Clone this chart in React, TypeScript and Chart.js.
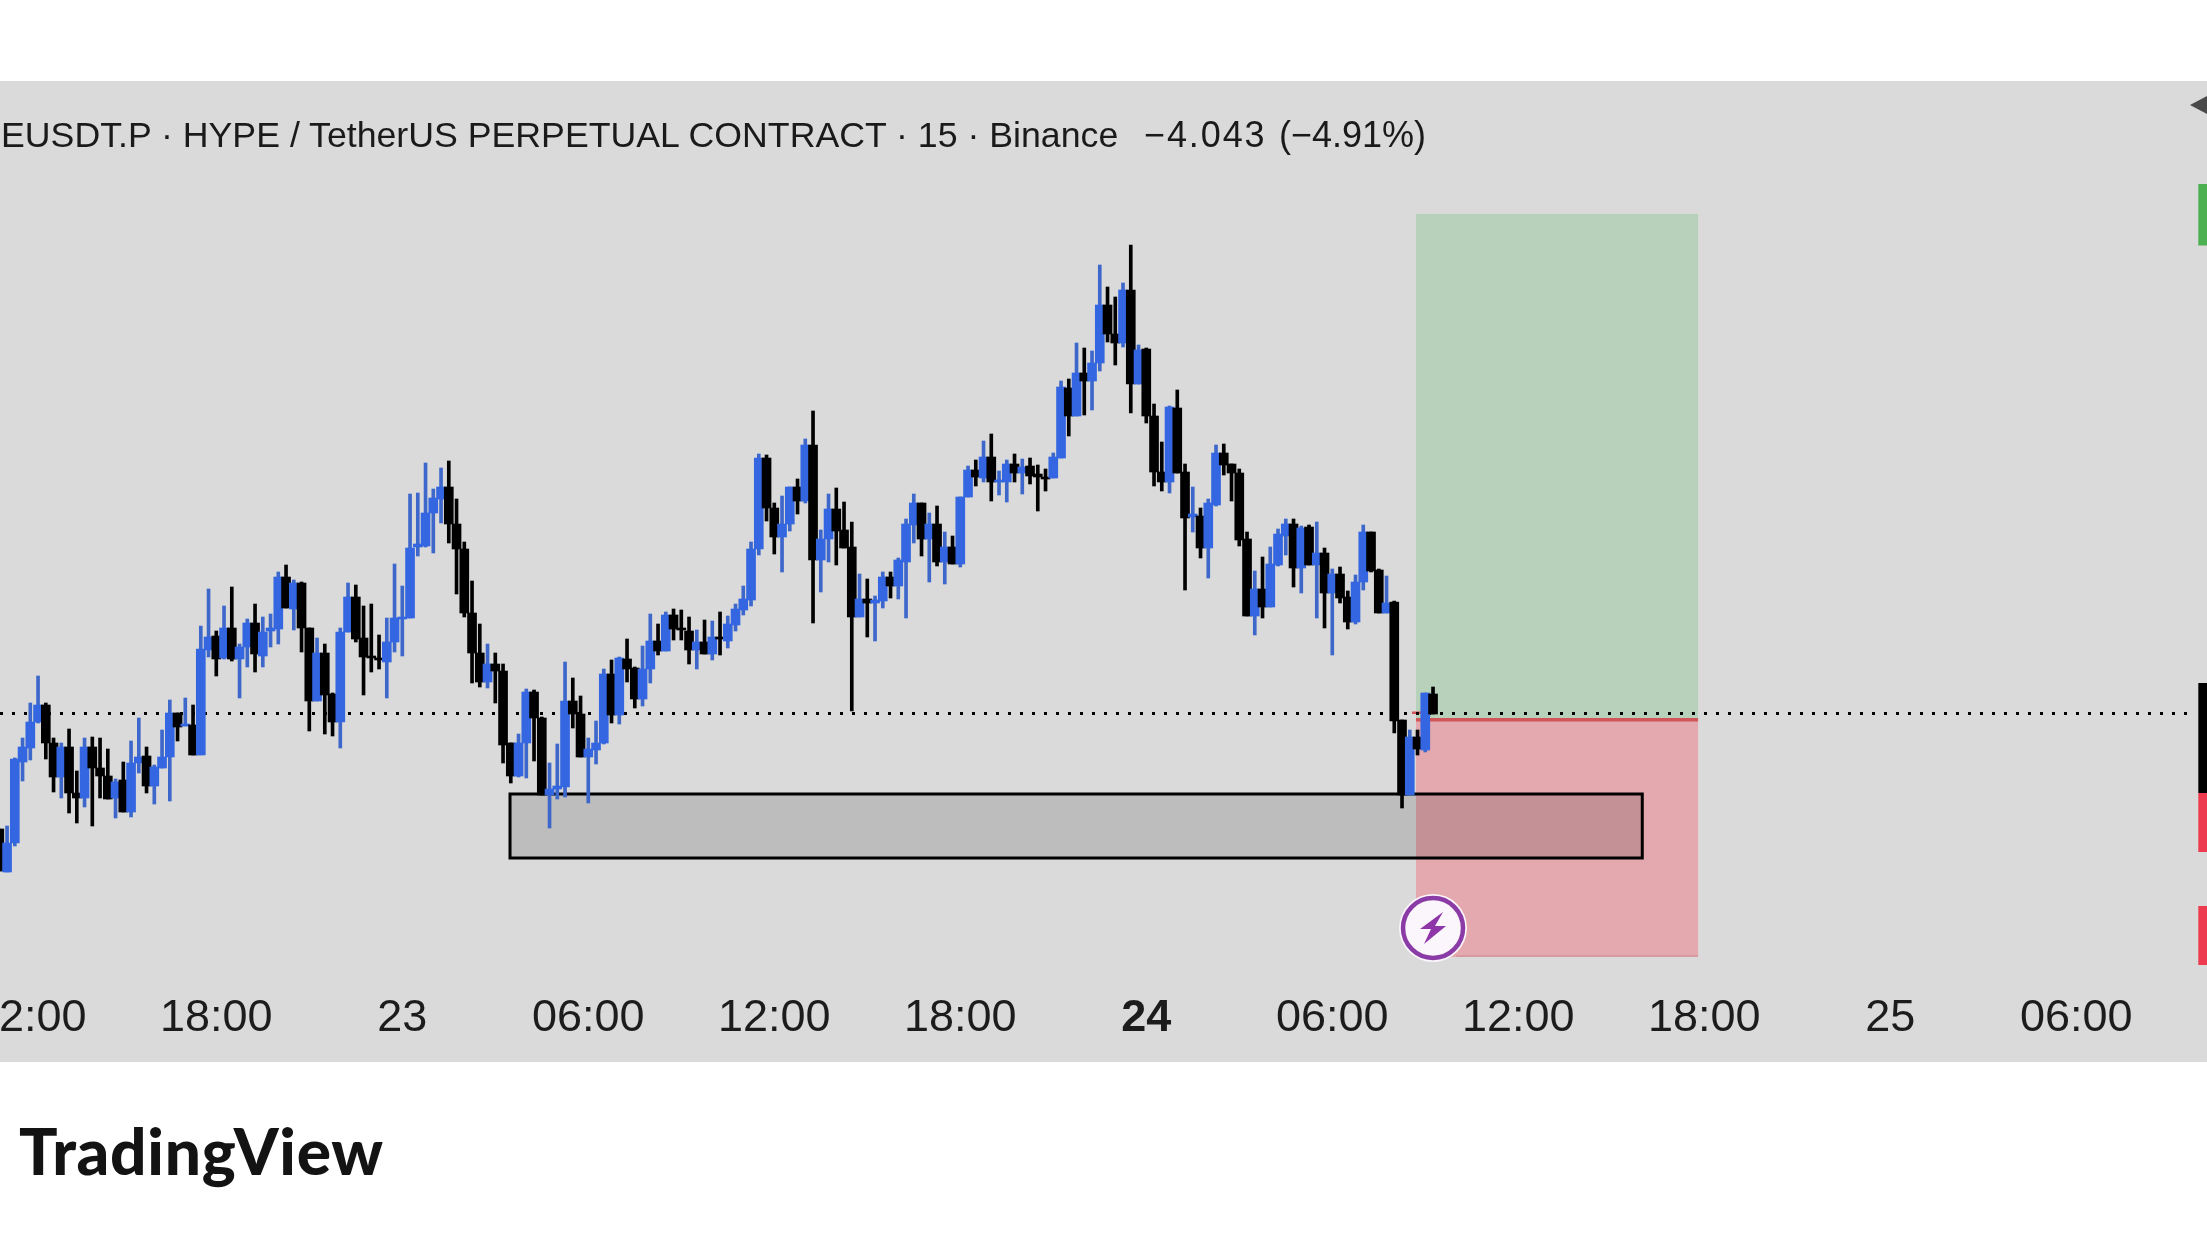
import React, { useEffect, useRef } from "react";
import { Chart, registerables } from "chart.js";

Chart.register(...registerables);

const opens = [
  67.1,62.8,65.7,73.8,75.2,77.8,79.5,75.7,72.3,75.3,
  70.7,70.2,75.3,73.2,72.4,70.2,72,68.8,73.7,74.4,
  71.4,73.2,74.3,78.7,77.4,77.5,74.5,85,86.4,84.2,
  87.2,84.1,85.3,87.7,84.4,86.9,87.1,92.3,89.1,91.7,
  87.2,79.9,84.7,80.6,77.8,86.8,90.3,86.2,84.4,84.2,
  83.8,85.8,88.1,88.2,95.3,95.4,98.7,100.1,101.3,97.6,
  95.1,88.7,84.7,81.8,83.6,82.9,75.7,72.4,75.7,80.8,
  78.2,70.5,71.1,71.3,79.9,78.6,74.3,75,75.7,82.6,
  78.5,84.1,83.2,80.1,83.1,85.9,84.9,88.5,87.2,86.9,
  85,85.8,84.6,86.3,85.9,87.5,89,90,95.1,104.2,
  99.2,96.3,97.6,101.3,99.9,105.5,94,96.1,99.1,97,
  95.3,88.3,90.1,89.7,89.9,92.3,91.4,93.8,97.5,99.7,
  96.1,97.6,93.8,95.3,93.6,100.3,103,102.2,104.3,101.8,
  101.8,103.6,102.7,103.4,102.6,102.3,102.2,104.2,111.2,108.4,
  112.7,111.9,113.7,119.5,116.6,115.7,121,111.6,115.1,108.4,
  102.8,101.8,109.2,102.8,98.3,98.4,95.2,99.5,104.7,103.6,
  102.7,96.1,88.4,91.1,89.3,93.5,96.4,97.6,93.2,97.3,
  93.5,94.7,90.7,92.6,90.3,87.8,91.8,96.8,93,88.7,
  89.8,78,70.5,76.3,75,80.6,
];
const closes = [
  62.9,65.7,74.1,75.3,77.8,79.5,75.7,72.3,75.3,70.7,
  70.2,75.3,73.2,72.4,70.1,71.8,68.8,73.7,74.3,71.4,
  73.3,74.3,78.7,77.3,77.6,74.5,85.1,86.3,84.1,87.2,
  84.1,85.3,87.7,84.6,86.8,87.2,92.3,89.2,91.7,87.2,
  79.9,84.7,80.5,77.8,86.8,90.3,86.1,84.3,84.2,84,
  85.8,88.2,88.3,95.2,95.6,98.7,100.2,101.3,97.6,95.1,
  88.7,84.7,81.8,83.6,82.9,75.5,72.4,75.7,80.8,78.2,
  70.5,71.1,71.4,79.9,78.6,74.3,75.1,75.7,82.6,78.5,
  84.2,83.1,80.1,83.1,85.9,84.9,88.5,87.1,87,85,
  85.8,84.6,86.3,86.1,87.6,89.1,90.1,95.1,104.2,99.2,
  96.3,97.6,101.3,99.9,105.5,94,96.1,99.1,96.9,95.2,
  88.3,90.1,89.7,90,92.3,91.4,94,97.6,99.7,96.1,
  97.6,93.8,95.3,93.6,100.3,103,102.3,104.3,101.8,102,
  103.6,102.7,103.3,102.4,102.3,102.1,104.3,111.3,108.4,112.7,
  111.9,113.7,119.5,116.6,115.7,121,111.6,115,108.4,102.8,
  101.8,109.3,102.7,98.2,98.6,95.2,99.7,104.7,103.5,102.7,
  96,88.4,91.1,89.3,93.6,96.6,97.6,93.2,97.2,93.5,
  94.7,90.7,92.6,90.2,87.8,91.8,96.8,92.9,88.7,89.7,
  77.9,70.5,76.3,75.1,80.7,78.6,
];
const highs = [
  67.1,67.4,74.2,76.2,79.7,82.4,79.7,76.2,75.7,77.1,
  72.9,76.2,76.3,76.2,75.1,72.1,73.8,75.9,78.2,75.3,
  73.5,77,80,78.7,80.2,79.5,87.4,91.1,86.9,89.4,
  91.3,85.6,88.1,89.6,88.3,88.6,92.8,93.5,92,91.8,
  87.2,86.2,85.6,80.7,87.2,91.7,91.5,89.4,89.6,86.5,
  88.2,93.6,91.4,100.6,100.7,103.7,101.1,103.2,103.9,100.1,
  95.8,91.9,87.6,85.6,84.7,83.6,75.7,76.6,81.1,81,
  78.3,73.7,75.6,83.8,82.2,80.4,76.2,77.9,83.1,84,
  84.3,86.1,83.3,85.4,88.6,87.6,88.8,89.1,89,88.3,
  87,88,87.9,88.8,88.4,89.6,91.4,95.8,104.6,104.5,
  99.7,100.4,101.3,102.1,106.1,108.9,97,100.6,101.2,99.8,
  97.8,92.6,92.1,90.4,92.8,92.8,94.2,98.1,100.6,99.7,
  98.7,99.4,96.8,96.4,100.3,103.4,104,105.9,106.6,102.9,
  104,104.6,104.1,104.2,103.5,103.1,104.7,111.9,112.1,115.7,
  115.2,114.9,123.5,121.3,120.3,121.7,125.5,115.5,115.2,109.6,
  105.8,109.4,111,103.6,101.3,99.2,100.1,105.5,105.6,103.6,
  103.1,96.8,92.9,94.3,95.3,97.1,98.1,98.1,97.4,97.5,
  97.8,95.2,93.1,93.3,90.9,92.5,97.5,96.8,93.1,92.4,
  89.9,78,77,77,80.7,81.3,
];
const lows = [
  62.9,62.8,65.4,71.9,74,77.7,74.1,70.8,70.2,68.7,
  67.7,69.3,67.4,70.2,70.1,68.2,68.8,68.3,72.7,70.7,
  69.6,73.2,69.9,75.9,77.4,74.5,74.5,84.3,82.4,84.1,
  83.9,80.2,83.3,82.8,83.3,85.3,85.6,89.2,87,84.8,
  76.9,79.9,76.6,76.4,75.2,86.8,85.8,80.5,82.8,83.1,
  80.2,84.8,84.4,88.2,94.4,95.3,94.7,97.7,95.7,90.6,
  88.3,81.7,81.3,81.2,79.7,73.7,71.7,72.3,72.2,73.9,
  70.5,67.2,70.1,70.3,77.2,74.3,69.7,73.6,75.6,77.7,
  77.6,81.8,79.2,79.4,81.7,84.5,84.9,86,86,83.6,
  83.1,84.6,84,84.5,85.2,86.9,88.5,89.4,94.5,97.9,
  94.6,92.8,96.9,98.6,99.7,87.7,90.8,93.8,93.5,95.2,
  78.9,88.3,86.3,85.9,89.2,90.2,90.1,88.2,95.7,94.4,
  91.8,93.4,91.6,93.6,93.3,100.3,101.4,101.8,99.9,100.5,
  99.8,101.8,100.6,101.6,98.9,100.9,102.2,104.2,106.4,108.4,
  108.5,109,112.9,115.8,113.5,115.3,108.7,111.6,107.7,101.4,
  100.9,100.7,102.7,91,96.8,94.2,92.2,99.4,102.5,99.9,
  95.4,88.4,86.5,88.2,89.3,93.4,94.5,91.3,90.7,93.5,
  88.2,87.2,84.5,89.7,87.1,87.6,91,92.8,88.7,88.7,
  76.7,69.2,70.5,74.5,74.8,78.6,
];

const timeTickIndexes = [4, 28, 52, 76, 100, 124, 148, 172, 196, 220, 244, 268];
const timeTickLabels = ["12:00", "18:00", "23", "06:00", "12:00", "18:00", "24", "06:00", "12:00", "18:00", "25", "06:00"];
const boldTickLabels = ["24"];

const lastPrice = 78.65;
const takeProfitPrice = 128.6;
const entryPrice = 78.05;
const stopPrice = 54.3;
const positionStartIndex = 182.8;
const positionEndIndex = 219.2;
const boxTopPrice = 70.6;
const boxBottomPrice = 64.2;
const boxStartIndex = 65.9;
const boxEndIndex = 212;
const sideTags = [
  { hi: 131.6, lo: 125.45, color: "#4caf50" },
  { hi: 81.7, lo: 70.7, color: "#000000" },
  { hi: 70.7, lo: 64.8, color: "#ee3a4e" },
  { hi: 59.4, lo: 53.5, color: "#ee3a4e" },
];
const sideTagIndex = 283.75;
const iconIndex = 185;
const iconPrice = 57.2;

const BLUE_BODY = "#3366e0";
const BLUE_WICK = "#3d67cb";
const BLACK = "#000000";

const overlays = {
  id: "overlays",
  beforeDraw(chart: any) {
    const c = chart.ctx;
    c.save();
    c.fillStyle = "#ffffff";
    c.fillRect(0, 0, chart.width, chart.height);
    c.fillStyle = "#dadada";
    c.fillRect(0, 81, chart.width, 981);
    c.restore();
  },
  beforeDatasetsDraw(chart: any) {
    const c = chart.ctx;
    const x = chart.scales.x;
    const y = chart.scales.y;
    const px = (v: number) => x.getPixelForValue(v);
    const py = (v: number) => y.getPixelForValue(v);
    c.save();
    const zl = px(positionStartIndex);
    const zr = px(positionEndIndex);
    c.fillStyle = "#b8d1bb";
    c.fillRect(zl, py(takeProfitPrice), zr - zl, py(entryPrice) - py(takeProfitPrice));
    c.fillStyle = "#e3a9ae";
    c.fillRect(zl, py(entryPrice), zr - zl, py(stopPrice) - py(entryPrice));
    c.fillStyle = "#d99a9f";
    c.fillRect(zl + 40, py(stopPrice) - 2, zr - zl - 40, 2);
    c.fillStyle = "#d3555a";
    c.fillRect(zl, py(entryPrice) - 1.5, zr - zl, 3.5);
    c.fillRect(zl - 4, py(lastPrice) - 2, 9, 2.5);

    const bl = px(boxStartIndex);
    const br = px(boxEndIndex);
    const bt = py(boxTopPrice);
    const bb = py(boxBottomPrice);
    c.fillStyle = "rgba(0,0,0,0.135)";
    c.fillRect(bl, bt, br - bl, bb - bt);
    c.strokeStyle = "#000000";
    c.lineWidth = 3;
    c.strokeRect(bl, bt, br - bl, bb - bt);
    c.restore();
  },
  afterDatasetsDraw(chart: any) {
    const c = chart.ctx;
    const x = chart.scales.x;
    const y = chart.scales.y;
    c.save();
    sideTags.forEach((t) => {
      c.fillStyle = t.color;
      c.fillRect(x.getPixelForValue(sideTagIndex), y.getPixelForValue(t.hi), 12, y.getPixelForValue(t.lo) - y.getPixelForValue(t.hi));
    });
    c.fillStyle = "#4a4a4a";
    c.beginPath();
    c.moveTo(2190, 105);
    c.lineTo(2207, 96);
    c.lineTo(2207, 114);
    c.closePath();
    c.fill();

    const cx = x.getPixelForValue(iconIndex);
    const cy = y.getPixelForValue(iconPrice);
    c.fillStyle = "#fbf6fc";
    c.beginPath();
    c.arc(cx, cy, 34, 0, Math.PI * 2);
    c.fill();
    c.strokeStyle = "#8a3ba6";
    c.lineWidth = 4.5;
    c.beginPath();
    c.arc(cx, cy, 30, 0, Math.PI * 2);
    c.stroke();
    c.fillStyle = "#8e35a8";
    c.beginPath();
    const bolt = [[10, -16], [-13, 1], [-2, 1], [-9, 16], [13, -2], [2, -2]];
    bolt.forEach(([a, b], i) => (i ? c.lineTo(cx + a, cy + b) : c.moveTo(cx + a, cy + b)));
    c.closePath();
    c.fill();
    c.restore();
  },
};

const headerStyle: React.CSSProperties = {
  position: "absolute",
  top: 113,
  fontFamily: "'Liberation Sans', Arial, sans-serif",
  fontSize: 36,
  lineHeight: "44px",
  color: "#1a1a1a",
  whiteSpace: "pre",
};

export default function App() {
  const ref = useRef<HTMLCanvasElement | null>(null);
  useEffect(() => {
    document.body.style.margin = "0";
    document.body.style.overflow = "hidden";
    const idx = opens.map((_, i) => i);
    const colors = (b: string) => idx.map((i) => (closes[i] >= opens[i] ? b : BLACK));
    const chart = new Chart(ref.current as HTMLCanvasElement, {
      type: "bar",
      data: {
        datasets: [
          {
            type: "bar",
            label: "Wick",
            data: idx.map((i) => ({ x: i, y: [lows[i], highs[i]] })),
            backgroundColor: colors(BLUE_WICK),
            barThickness: 3,
            grouped: false,
            order: 2,
          },
          {
            type: "bar",
            label: "Body",
            data: idx.map((i) => ({ x: i, y: [opens[i], closes[i]] })),
            backgroundColor: colors(BLUE_BODY),
            barThickness: 9,
            grouped: false,
            order: 1,
          },
          {
            type: "line",
            label: "Last price",
            data: [{ x: 0.09, y: lastPrice }, { x: 282.3, y: lastPrice }],
            borderColor: "#000000",
            borderWidth: 3,
            borderDash: [3, 9],
            pointRadius: 0,
            order: 3,
          },
        ],
      } as any,
      options: {
        animation: false,
        responsive: false,
        devicePixelRatio: 1,
        layout: { padding: { top: 80, left: 0, right: 0, bottom: 0 } },
        plugins: { legend: { display: false }, tooltip: { enabled: false }, title: { display: false } },
        scales: {
          x: {
            type: "linear",
            min: 0.09,
            max: 284.87,
            offset: false,
            grid: { display: false, drawTicks: false },
            border: { display: false },
            afterBuildTicks(scale: any) {
              scale.ticks = timeTickIndexes.map((value) => ({ value }));
            },
            afterFit(scale: any) {
              scale.height = 260;
              scale.paddingLeft = 0;
              scale.paddingRight = 0;
            },
            ticks: {
              autoSkip: false,
              maxRotation: 0,
              minRotation: 0,
              padding: 12,
              color: "#1c1c1c",
              callback: (v: any) => timeTickLabels[timeTickIndexes.indexOf(Number(v))],
              font: (ctx: any) => {
                const label = timeTickLabels[timeTickIndexes.indexOf(ctx.tick?.value)];
                return {
                  family: "'Liberation Sans', Arial, sans-serif",
                  size: 45,
                  weight: boldTickLabels.includes(label) ? "bold" : "normal",
                };
              },
            },
          },
          y: {
            type: "linear",
            display: false,
            min: 52,
            max: 142,
            grid: { display: false },
          },
        },
      } as any,
      plugins: [overlays],
    } as any);
    return () => chart.destroy();
  }, []);

  return (
    <div style={{ position: "absolute", left: 0, top: 0, width: 2207, height: 1240, overflow: "hidden", background: "#fff" }}>
      <canvas ref={ref} width={2207} height={1240} style={{ position: "absolute", left: 0, top: 0, width: 2207, height: 1240 }} />
      <div style={{ ...headerStyle, left: 1, fontSize: 35.7 }}>
        {"EUSDT.P · HYPE / TetherUS PERPETUAL CONTRACT · 15 · Binance"}
      </div>
      <div style={{ ...headerStyle, left: 1144, letterSpacing: 1.9 }}>{"−4.043"}</div>
      <div style={{ ...headerStyle, left: 1279 }}>{"(−4.91%)"}</div>
      <div
        style={{
          position: "absolute",
          left: 19,
          top: 1113,
          fontFamily: "Lato, 'Open Sans', sans-serif",
          fontWeight: 900,
          fontSize: 64,
          letterSpacing: 0.7,
          lineHeight: "76px",
          color: "#131313",
          whiteSpace: "pre",
        }}
      >
        TradingView
      </div>
    </div>
  );
}
